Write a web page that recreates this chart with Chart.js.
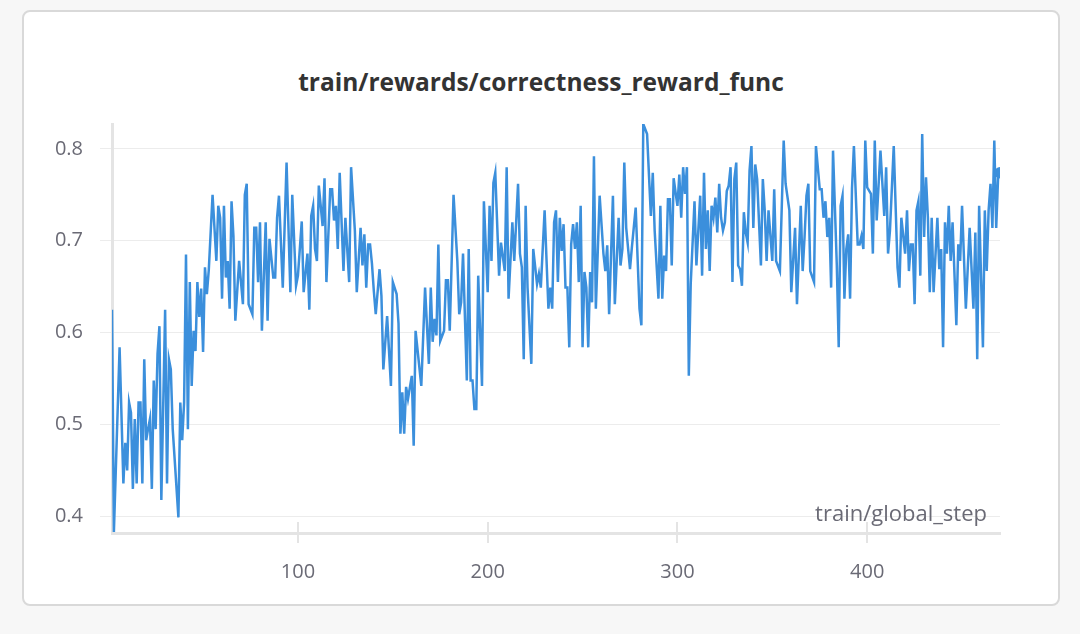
<!DOCTYPE html>
<html>
<head>
<meta charset="utf-8">
<script src="https://cdn.jsdelivr.net/npm/chart.js@4.4.1/dist/chart.umd.min.js"></script>
<style>
  html, body { margin: 0; padding: 0; background: #f7f7f7; }
  #card {
    position: absolute; left: 22px; top: 10px; width: 1038px; height: 596px;
    background: #fff; border: 2px solid #d9d9d9; border-radius: 8px; box-sizing: border-box;
  }
  #title {
    position: absolute; left: 22px; width: 1038px; top: 65px; line-height: 34px;
    text-align: center; font: bold 24.5px "Open Sans"; color: #333;
  }
  #wrap { position: absolute; left: 56px; top: 95px; width: 990px; height: 485px; }
</style>
</head>
<body>
<div id="card"></div>
<div id="title">train/rewards/correctness_reward_func</div>
<div id="wrap"><canvas id="myChart"></canvas></div>
<script>
// values
var steps = [
  2, 3, 6, 8, 9, 10, 11, 12, 13, 14, 15, 16, 17, 18, 19, 20, 21, 22, 23, 24, 25, 26, 27, 28, 30,
  31, 32, 33, 34, 37, 38, 39, 40, 41, 42, 43, 44, 45, 46, 47, 48, 49, 50, 51, 52, 53, 55, 57, 58, 59,
  60, 61, 62, 63, 64, 65, 66, 67, 69, 71, 72, 73, 74, 76, 77, 78, 79, 80, 81, 83, 84, 85, 87, 88, 89,
  90, 92, 94, 96, 97, 99, 100, 102, 103, 105, 106, 107, 108, 109, 110, 111, 113, 114, 115, 117, 118, 119, 120, 121,
  122, 124, 125, 127, 128, 130, 131, 133, 134, 135, 136, 137, 138, 139, 140, 141, 143, 144, 145, 147, 149, 150,
  152, 153, 154, 155, 156, 157, 158, 160, 161, 162, 165, 167, 169, 170, 171, 172, 173, 174, 175, 177, 178, 179,
  180, 182, 184, 185, 186, 187, 189, 190, 191, 192, 193, 194, 195, 197, 198, 200, 201, 202, 203, 204, 206, 207,
  209, 210, 211, 213, 214, 216, 217, 218, 219, 220, 221, 223, 224, 226, 227, 228, 230, 232, 233, 234, 235, 236,
  237, 238, 239, 240, 241, 242, 243, 244, 245, 246, 247, 248, 249, 250, 251, 252, 253, 254, 255, 256, 257, 259,
  261, 262, 263, 264, 266, 267, 269, 270, 271, 272, 273, 275, 276, 278, 280, 281, 282, 284, 286, 287, 288, 290,
  291, 292, 293, 294, 295, 296, 297, 298, 300, 301, 302, 303, 304, 305, 306, 307, 309, 310, 312, 313, 314, 315,
  316, 317, 318, 319, 320, 321, 322, 323, 324, 325, 326, 327, 328, 329, 330, 331, 332, 333, 334, 335, 336, 337,
  338, 339, 340, 341, 342, 344, 345, 346, 347, 348, 350, 351, 352, 354, 356, 357, 359, 360, 362, 363, 365, 366,
  367, 368, 369, 370, 372, 373, 375, 376, 377, 378, 379, 380, 381, 382, 384, 385, 386, 387, 388, 389, 390, 391,
  392, 393, 395, 396, 397, 398, 399, 400, 402, 403, 404, 405, 407, 409, 410, 411, 412, 414, 416, 417, 418, 420,
  421, 422, 423, 424, 425, 426, 427, 428, 429, 430, 431, 432, 433, 434, 435, 437, 438, 439, 440, 441, 442, 443,
  444, 445, 447, 448, 449, 450, 452, 454, 456, 457, 458, 459, 461, 462, 463, 464, 465, 466, 467, 468, 469, 470
];
var rewards = [
  0.625, 0.383, 0.584, 0.436, 0.480, 0.450, 0.524, 0.513, 0.430, 0.506, 0.436, 0.524, 0.524, 0.436, 0.571, 0.483, 0.495, 0.506, 0.430, 0.548, 0.495, 0.577, 0.607, 0.418, 0.625,
  0.436, 0.571, 0.560, 0.495, 0.399, 0.524, 0.483, 0.524, 0.685, 0.495, 0.655, 0.542, 0.602, 0.580, 0.655, 0.617, 0.648, 0.579, 0.671, 0.642, 0.668, 0.750, 0.678, 0.738, 0.725,
  0.637, 0.738, 0.660, 0.678, 0.626, 0.743, 0.705, 0.613, 0.678, 0.631, 0.750, 0.762, 0.631, 0.620, 0.714, 0.714, 0.655, 0.720, 0.602, 0.720, 0.613, 0.702, 0.660, 0.660, 0.725,
  0.749, 0.649, 0.785, 0.644, 0.750, 0.651, 0.662, 0.721, 0.644, 0.686, 0.625, 0.727, 0.738, 0.691, 0.678, 0.760, 0.716, 0.768, 0.655, 0.756, 0.756, 0.722, 0.738, 0.691,
  0.774, 0.667, 0.725, 0.655, 0.780, 0.711, 0.644, 0.714, 0.673, 0.707, 0.649, 0.696, 0.696, 0.675, 0.645, 0.620, 0.669, 0.640, 0.560, 0.618, 0.542, 0.655,
  0.642, 0.610, 0.490, 0.535, 0.490, 0.541, 0.528, 0.553, 0.477, 0.602, 0.542, 0.649, 0.566, 0.649, 0.590, 0.615, 0.597, 0.696, 0.591, 0.602, 0.657, 0.657,
  0.602, 0.750, 0.678, 0.620, 0.633, 0.686, 0.548, 0.691, 0.548, 0.548, 0.517, 0.517, 0.662, 0.542, 0.743, 0.644, 0.738, 0.678, 0.763, 0.774, 0.662, 0.698,
  0.667, 0.780, 0.637, 0.720, 0.678, 0.762, 0.686, 0.671, 0.571, 0.738, 0.649, 0.566, 0.691, 0.653, 0.664, 0.649, 0.733, 0.626, 0.649, 0.626, 0.720, 0.733,
  0.655, 0.725, 0.689, 0.718, 0.649, 0.649, 0.584, 0.696, 0.718, 0.691, 0.720, 0.655, 0.738, 0.584, 0.666, 0.649, 0.584, 0.666, 0.633, 0.792, 0.626, 0.749,
  0.686, 0.667, 0.695, 0.620, 0.749, 0.631, 0.725, 0.673, 0.691, 0.785, 0.714, 0.669, 0.693, 0.736, 0.626, 0.608, 0.827, 0.816, 0.727, 0.774, 0.711, 0.637,
  0.738, 0.637, 0.684, 0.667, 0.745, 0.745, 0.673, 0.768, 0.738, 0.772, 0.725, 0.780, 0.751, 0.780, 0.553, 0.653, 0.743, 0.673, 0.749, 0.662, 0.774, 0.691,
  0.733, 0.667, 0.738, 0.725, 0.747, 0.709, 0.762, 0.725, 0.711, 0.720, 0.754, 0.760, 0.780, 0.655, 0.767, 0.785, 0.673, 0.669, 0.651, 0.731, 0.709, 0.698,
  0.776, 0.803, 0.714, 0.783, 0.767, 0.673, 0.767, 0.733, 0.678, 0.733, 0.678, 0.756, 0.678, 0.667, 0.809, 0.762, 0.733, 0.644, 0.714, 0.631, 0.738, 0.667,
  0.704, 0.749, 0.762, 0.667, 0.655, 0.803, 0.756, 0.756, 0.725, 0.743, 0.704, 0.725, 0.649, 0.798, 0.673, 0.584, 0.738, 0.749, 0.637, 0.691, 0.707, 0.637,
  0.757, 0.803, 0.696, 0.696, 0.705, 0.691, 0.809, 0.758, 0.751, 0.686, 0.809, 0.722, 0.798, 0.727, 0.780, 0.686, 0.711, 0.803, 0.671, 0.649, 0.725, 0.686,
  0.733, 0.667, 0.696, 0.696, 0.631, 0.733, 0.743, 0.662, 0.816, 0.704, 0.769, 0.725, 0.644, 0.725, 0.644, 0.725, 0.669, 0.691, 0.584, 0.720, 0.686, 0.738,
  0.678, 0.720, 0.608, 0.696, 0.678, 0.738, 0.626, 0.714, 0.626, 0.709, 0.571, 0.738, 0.584, 0.733, 0.667, 0.733, 0.762, 0.714, 0.809, 0.714, 0.769, 0.774
];
var xTicks = [100, 200, 300, 400];
var yTicks = [0.4, 0.5, 0.6, 0.7, 0.8];

var tickColor = '#6a6a75';
var lastIndex = steps.length - 1;

// axis caption inside the plot + the little tick marks that cross the x axis
var extras = {
  id: 'extras',
  afterDraw: function(chart) {
    var ctx = chart.ctx;
    var area = chart.chartArea;
    var x = chart.scales.x;
    ctx.save();
    ctx.strokeStyle = '#e4e4e4';
    ctx.lineWidth = 2;
    xTicks.forEach(function(v) {
      var px = Math.round(x.getPixelForValue(v));
      ctx.beginPath();
      ctx.moveTo(px, area.bottom - 11);
      ctx.lineTo(px, area.bottom);
      ctx.stroke();
    });
    ctx.fillStyle = tickColor;
    ctx.font = '22px "Open Sans"';
    ctx.textAlign = 'right';
    ctx.textBaseline = 'alphabetic';
    ctx.fillText('train/global_step', area.right - 13, area.bottom - 12);
    ctx.restore();
  }
};

var ctx = document.getElementById('myChart').getContext('2d');
var myChart = new Chart(ctx, {
  type: 'line',
  data: {
    datasets: [{
      data: steps.map(function(s, i) { return { x: s, y: rewards[i] }; }),
      borderColor: '#3b8fdc',
      backgroundColor: '#3b8fdc',
      borderWidth: 2.5,
      tension: 0,
      pointRadius: function(c) { return c.dataIndex === lastIndex ? 4.5 : 0; },
      pointHoverRadius: 0
    }]
  },
  options: {
    responsive: true,
    maintainAspectRatio: false,
    animation: false,
    layout: { padding: { top: 28, right: 46, left: 0, bottom: 0 } },
    plugins: {
      legend: { display: false },
      tooltip: { enabled: false }
    },
    scales: {
      x: {
        type: 'linear',
        min: 2,
        max: 470,
        afterBuildTicks: function(s) { s.ticks = xTicks.map(function(v) { return { value: v }; }); },
        afterFit: function(s) { s.height = 47; },
        grid: { drawOnChartArea: false, drawTicks: true, tickLength: 10, color: '#e4e4e4', lineWidth: 2 },
        border: { color: '#e4e4e4', width: 3 },
        ticks: { color: tickColor, font: { family: 'Open Sans', size: 20 }, padding: 17, maxRotation: 0 }
      },
      y: {
        min: 0.382,
        max: 0.827,
        afterBuildTicks: function(s) { s.ticks = yTicks.map(function(v) { return { value: v }; }); },
        afterFit: function(s) { s.width = 56; },
        grid: { color: '#ececec', lineWidth: 1, tickLength: 12 },
        border: { color: '#e4e4e4', width: 3 },
        ticks: {
          color: tickColor,
          font: { family: 'Open Sans', size: 20 },
          padding: 17,
          callback: function(v) { return v.toFixed(1); }
        }
      }
    }
  },
  plugins: [extras]
});
</script>
</body>
</html>
